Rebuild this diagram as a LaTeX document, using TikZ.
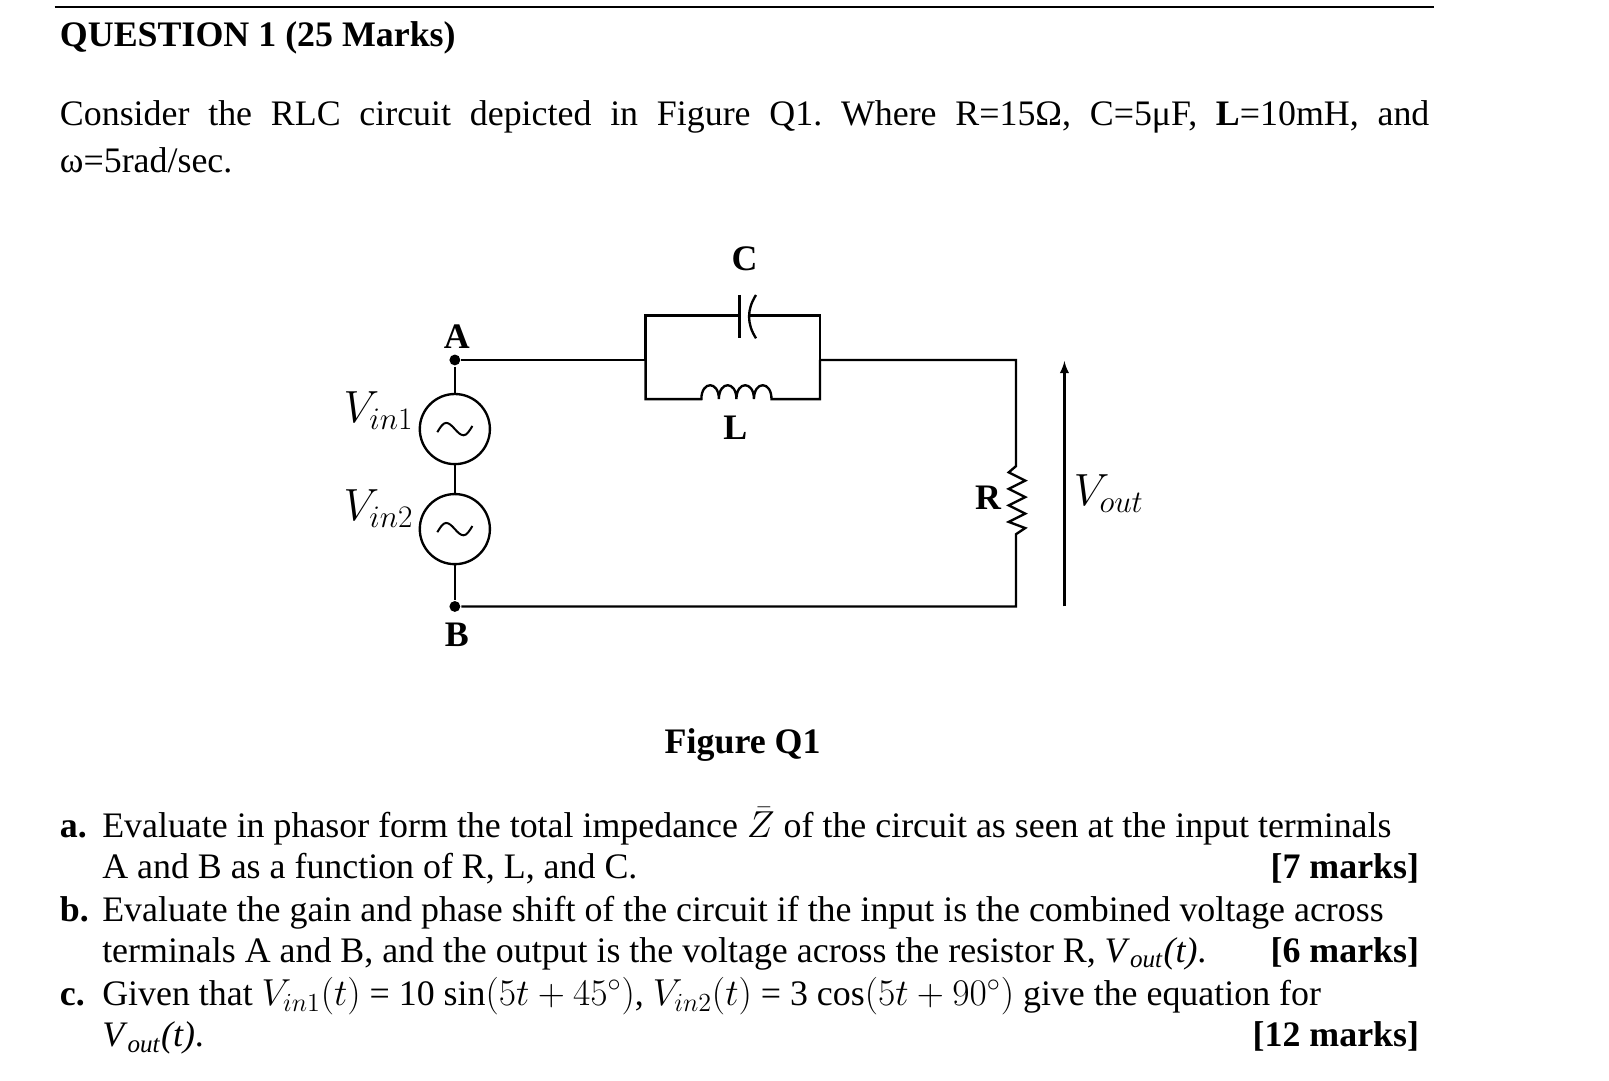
\documentclass[tikz,border=0pt]{standalone}
\usepackage{fontspec}
\setmainfont{Liberation Serif}
\frenchspacing
\begin{document}
\begin{tikzpicture}[x=0.02cm,y=-0.02cm,line width=1.3pt,
  txt/.style={inner sep=0pt,font=\fontsize{19.8}{23}\selectfont},
  lbl/.style={inner sep=0pt,font=\fontsize{19.8}{23}\selectfont\bfseries},
  src/.style={circle,draw,minimum size=1.36cm,inner sep=0pt},
  dot/.style={circle,fill,inner sep=0pt,minimum size=6pt}]
\useasboundingbox (0,0) rectangle (1560,1048);
\draw[line width=0.8pt] (53,7) -- (1390,7);
\node[lbl,anchor=base west] (q) at (57,45) {QUESTION 1 (25 Marks)};
\node[txt,anchor=base west] (p1) at (57,122) {\makebox[26.56cm][s]{Consider the RLC circuit depicted in Figure Q1. Where R=15Ω, C=5μF, \textbf{L}=10mH, and}};
\node[txt,anchor=base west] (p2) at (57,167) {ω=5rad/sec.};
% circuit
\node[dot] (A) at (441,349) {};
\node[dot] (B) at (441,588) {};
\node[src] (s1) at (441,416) {};
\node[src] (s2) at (441,513) {};
\foreach \c in {s1,s2}{
  \draw[line width=1.1pt] ([xshift=-0.34cm,yshift=-0.06cm]\c.center) sin ([xshift=-0.17cm,yshift=0.12cm]\c.center) cos ([xshift=0cm,yshift=0cm]\c.center) sin ([xshift=0.17cm,yshift=-0.12cm]\c.center) cos ([xshift=0.34cm,yshift=0.06cm]\c.center);
}
\draw (A) -- (s1) (s1) -- (s2) (s2) -- (B);
\coordinate (pl) at (626,349);
\coordinate (pr) at (795,349);
\coordinate (tr) at (985,349);
\coordinate (rt) at (985,452);
\coordinate (rb) at (985,518);
\coordinate (br) at (985,588);
\draw (A) -- (pl);
\draw (pl) -- (626,306) -- (717,306);
\draw (717,286) -- (717,328);
\draw (733,286) .. controls (724,300) and (724,314) .. (733,328);
\draw (727,306) -- (795,306) -- (pr);
\draw (pl) -- (626,387) -- (680,387)
  .. controls (680,369) and (697,369) .. (697,387)
  .. controls (697,369) and (714,369) .. (714,387)
  .. controls (714,369) and (731,369) .. (731,387)
  .. controls (731,369) and (748,369) .. (748,387)
  -- (795,387) -- (pr);
\draw (pr) -- (tr) -- (rt) -- (978,458) -- (994,466) -- (978,474) -- (994,482) -- (978,490) -- (994,498) -- (978,506) -- (994,512) -- (rb) -- (br) -- (B);
\coordinate (vb) at (1032,588);
\coordinate (vt) at (1032,350);
\draw[-latex] (vb) -- (vt);
\node[lbl,anchor=base] (lC) at (722,262) {C};
\node[lbl,anchor=base] (lL) at (713,426) {L};
\node[lbl,anchor=base] (lA) at (443,338) {A};
\node[lbl,anchor=base] (lB) at (443,627) {B};
\node[lbl,anchor=base] (lR) at (958,494) {R};
\node[txt,anchor=base east,font=\fontsize{23}{24}\selectfont] (v1) at (402,410) {$V_{in1}$};
\node[txt,anchor=base east,font=\fontsize{23}{24}\selectfont] (v2) at (402,505) {$V_{in2}$};
\node[txt,anchor=base west,font=\fontsize{23}{24}\selectfont] (vo) at (1040,490) {$V_{out}$};
\node[lbl,anchor=base] (fig) at (720,731) {Figure Q1};
% questions
\node[lbl,anchor=base west] (ia) at (57,812) {a.};
\node[txt,anchor=base west] (ta1) at (98,812) {Evaluate in phasor form the total impedance $\bar{Z}$ of the circuit as seen at the input terminals};
\node[txt,anchor=base west] (ta2) at (98,852) {A and B as a function of R, L, and C.};
\node[lbl,anchor=base east] (ma) at (1377,852) {[7 marks]};
\node[lbl,anchor=base west] (ib) at (57,893) {b.};
\node[txt,anchor=base west] (tb1) at (98,893) {Evaluate the gain and phase shift of the circuit if the input is the combined voltage across};
\node[txt,anchor=base west] (tb2) at (98,933) {terminals A and B, and the output is the voltage across the resistor R, \textit{V}\textsubscript{\textit{out}}\textit{(t)}.};
\node[lbl,anchor=base east] (mb) at (1377,933) {[6 marks]};
\node[lbl,anchor=base west] (ic) at (57,975) {c.};
\node[txt,anchor=base west] (tc1) at (98,975) {Given that $V_{in1}(t)$ = 10 sin$(5t+45^{\circ})$, $V_{in2}(t)$ = 3 cos$(5t+90^{\circ})$ give the equation for};
\node[txt,anchor=base west] (tc2) at (98,1015) {\textit{V}\textsubscript{\textit{out}}\textit{(t)}.};
\node[lbl,anchor=base east] (mc) at (1377,1015) {[12 marks]};
\end{tikzpicture}
\end{document}
